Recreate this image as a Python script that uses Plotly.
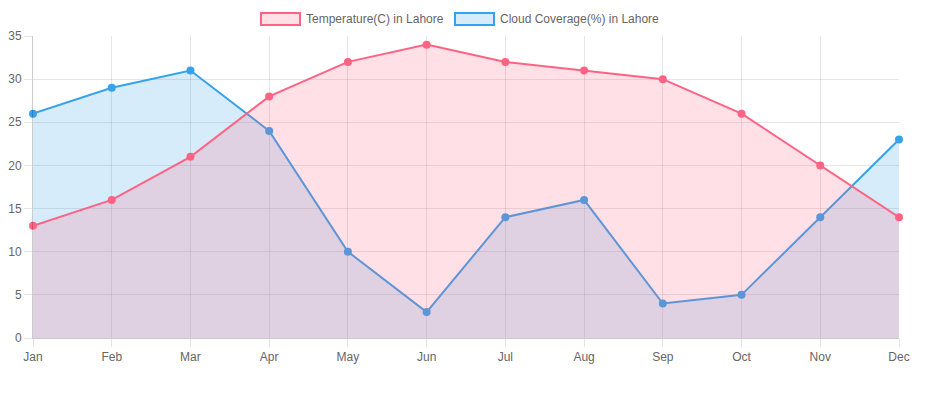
import plotly.graph_objects as go

months = ["Jan", "Feb", "Mar", "Apr", "May", "Jun", "Jul", "Aug", "Sep", "Oct", "Nov", "Dec"]
temperature = [13, 16, 21, 28, 32, 34, 32, 31, 30, 26, 20, 14]
cloud = [26, 29, 31, 24, 10, 3, 14, 16, 4, 5, 14, 23]
series_names = ["Temperature(C) in Lahore", "Cloud Coverage(%) in Lahore"]
y_ticks = [0, 5, 10, 15, 20, 25, 30, 35]

RED = "rgb(255,99,132)"
RED_FILL = "rgba(255,99,132,0.2)"
BLUE = "rgb(54,162,235)"
BLUE_FILL = "rgba(54,162,235,0.2)"
FONT = "Liberation Sans, Arial, Helvetica, sans-serif"

OFF = 8  # page body margin
W, H = 940, 389
L, T = 33 - OFF, 36 - OFF
pw, ph = 899 - 33, 338 - 36
R, B = W - L - pw, H - T - ph

fig = go.Figure()
fig.add_trace(go.Scatter(
    x=months, y=cloud, name=series_names[1], mode="lines+markers",
    line=dict(color=BLUE, width=2), marker=dict(color=BLUE, size=8),
    fill="tozeroy", fillcolor=BLUE_FILL, showlegend=False, cliponaxis=False))
fig.add_trace(go.Scatter(
    x=months, y=temperature, name=series_names[0], mode="lines+markers",
    line=dict(color=RED, width=2), marker=dict(color=RED, size=8),
    fill="tozeroy", fillcolor=RED_FILL, showlegend=False, cliponaxis=False))

def px_x(p):
    return (p - OFF - L) / pw

def px_y(p):
    return (T + ph - (p - OFF)) / ph

# custom Chart.js-style legend
legend_items = [
    (260, series_names[0], RED, RED_FILL),
    (454, series_names[1], BLUE, BLUE_FILL),
]
for x0, name, lc, fc in legend_items:
    fig.add_shape(type="rect", xref="paper", yref="paper",
                  x0=px_x(x0 + 1), x1=px_x(x0 + 40), y0=px_y(25), y1=px_y(13),
                  line=dict(color=lc, width=2), fillcolor=fc)
    fig.add_annotation(xref="paper", yref="paper", x=px_x(x0 + 44), y=px_y(19),
                       text=name, showarrow=False, xanchor="left", yanchor="middle",
                       font=dict(family=FONT, size=12, color="#666"))

axis_common = dict(
    showgrid=True, gridcolor="rgba(0,0,0,0.1)", gridwidth=1,
    ticks="outside", ticklen=8, tickcolor="rgba(0,0,0,0.1)",
    showline=True, linecolor="rgba(0,0,0,0.2)", linewidth=1,
    tickfont=dict(family=FONT, size=12, color="#666"),
    zeroline=False, automargin=False,
)

fig.update_layout(
    width=W, height=H, margin=dict(l=L, r=R, t=T, b=B, autoexpand=False),
    paper_bgcolor="white", plot_bgcolor="white",
    font=dict(family=FONT, size=12, color="#666"),
    xaxis=dict(type="category", range=[0, 11], **axis_common),
    yaxis=dict(range=[0, 35], tickvals=y_ticks, **axis_common),
)

fig.write_html("out.html")
